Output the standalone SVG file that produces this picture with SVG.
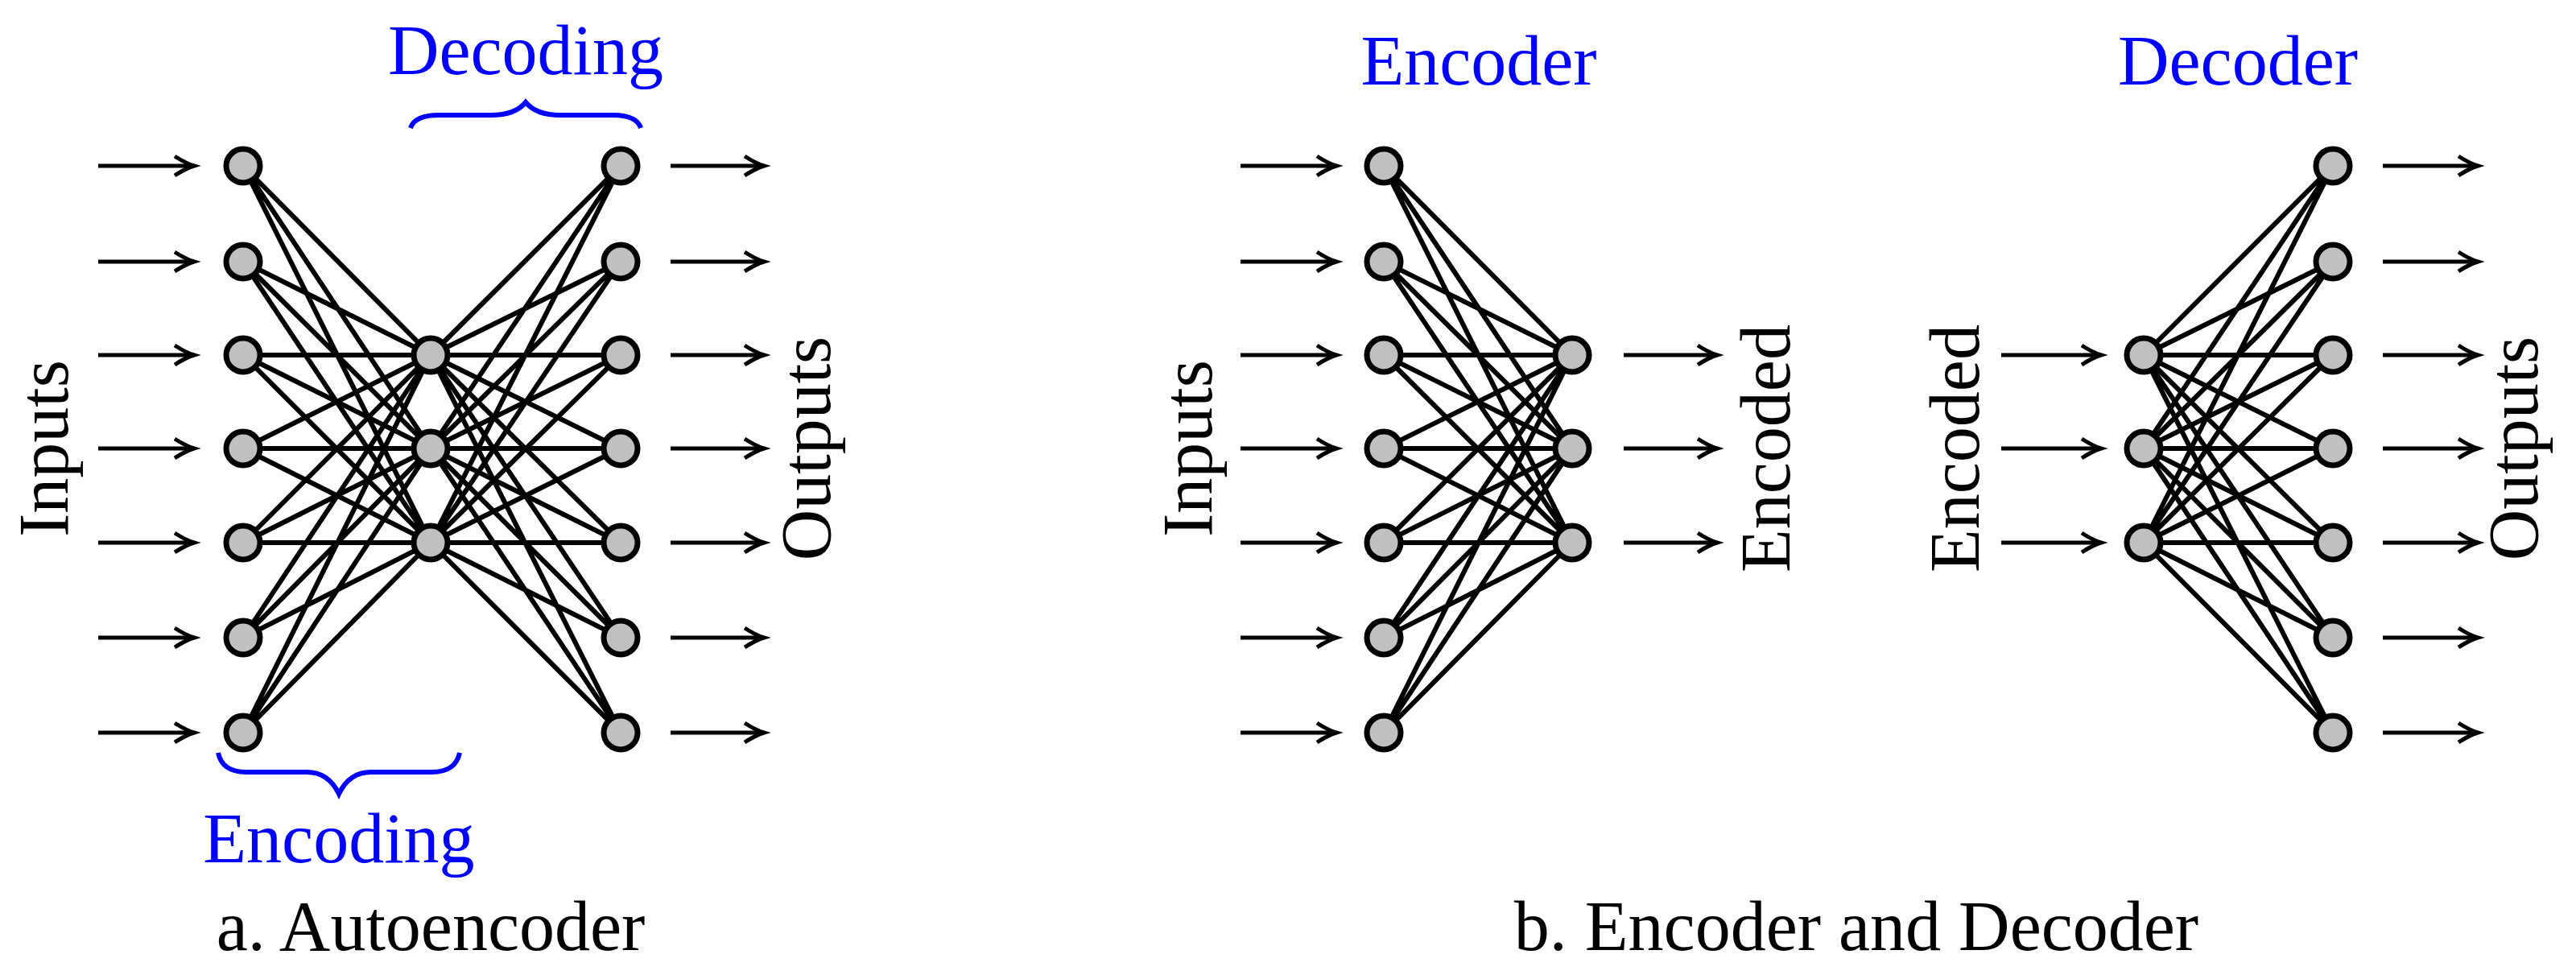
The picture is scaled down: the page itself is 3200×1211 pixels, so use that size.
<svg xmlns="http://www.w3.org/2000/svg" width="3200" height="1211" viewBox="0 0 3200 1211">
<defs>
<style>
.n{fill:#c0c0c0;stroke:#000;stroke-width:7}
.e{fill:none;stroke:#000;stroke-width:6}
.a{fill:none;stroke:#000;stroke-width:5;marker-end:url(#ah)}
.t{font-family:"Liberation Serif",serif;font-size:88px;fill:#000}
.b{fill:#0000ff}
.br{fill:none;stroke:#0000ff;stroke-width:6}
</style>
<marker id="ah" markerUnits="userSpaceOnUse" markerWidth="40" markerHeight="30" refX="2" refY="0" viewBox="-24 -15 30 30" orient="auto" overflow="visible">
<path d="M-22,-12 Q-8,-3 2,0 Q-8,3 -22,12" fill="none" stroke="#000" stroke-width="5"/>
</marker>
</defs>
<rect width="3200" height="1211" fill="#fff"/>
<g id="connectors">
<path class="e" d="M302 206L535 441M302 206L535 557M302 206L535 674M302 325L535 441M302 325L535 557M302 325L535 674M302 441L535 441M302 441L535 557M302 441L535 674M302 557L535 441M302 557L535 557M302 557L535 674M302 674L535 441M302 674L535 557M302 674L535 674M302 792L535 441M302 792L535 557M302 792L535 674M302 910L535 441M302 910L535 557M302 910L535 674"/>
<path class="e" d="M771 206L535 441M771 206L535 557M771 206L535 674M771 325L535 441M771 325L535 557M771 325L535 674M771 441L535 441M771 441L535 557M771 441L535 674M771 557L535 441M771 557L535 557M771 557L535 674M771 674L535 441M771 674L535 557M771 674L535 674M771 792L535 441M771 792L535 557M771 792L535 674M771 910L535 441M771 910L535 557M771 910L535 674"/>
<path class="e" d="M1719 206L1953 441M1719 206L1953 557M1719 206L1953 674M1719 325L1953 441M1719 325L1953 557M1719 325L1953 674M1719 441L1953 441M1719 441L1953 557M1719 441L1953 674M1719 557L1953 441M1719 557L1953 557M1719 557L1953 674M1719 674L1953 441M1719 674L1953 557M1719 674L1953 674M1719 792L1953 441M1719 792L1953 557M1719 792L1953 674M1719 910L1953 441M1719 910L1953 557M1719 910L1953 674"/>
<path class="e" d="M2898 206L2663 441M2898 206L2663 557M2898 206L2663 674M2898 325L2663 441M2898 325L2663 557M2898 325L2663 674M2898 441L2663 441M2898 441L2663 557M2898 441L2663 674M2898 557L2663 441M2898 557L2663 557M2898 557L2663 674M2898 674L2663 441M2898 674L2663 557M2898 674L2663 674M2898 792L2663 441M2898 792L2663 557M2898 792L2663 674M2898 910L2663 441M2898 910L2663 557M2898 910L2663 674"/>
<path class="a" d="M122 206H241"/><path class="a" d="M122 325H241"/><path class="a" d="M122 441H241"/><path class="a" d="M122 557H241"/><path class="a" d="M122 674H241"/><path class="a" d="M122 792H241"/><path class="a" d="M122 910H241"/>
<path class="a" d="M833 206H949"/><path class="a" d="M833 325H949"/><path class="a" d="M833 441H949"/><path class="a" d="M833 557H949"/><path class="a" d="M833 674H949"/><path class="a" d="M833 792H949"/><path class="a" d="M833 910H949"/>
<path class="a" d="M1541 206H1660"/><path class="a" d="M1541 325H1660"/><path class="a" d="M1541 441H1660"/><path class="a" d="M1541 557H1660"/><path class="a" d="M1541 674H1660"/><path class="a" d="M1541 792H1660"/><path class="a" d="M1541 910H1660"/>
<path class="a" d="M2017 441H2133"/><path class="a" d="M2017 557H2133"/><path class="a" d="M2017 674H2133"/>
<path class="a" d="M2486 441H2610"/><path class="a" d="M2486 557H2610"/><path class="a" d="M2486 674H2610"/>
<path class="a" d="M2960 206H3078"/><path class="a" d="M2960 325H3078"/><path class="a" d="M2960 441H3078"/><path class="a" d="M2960 557H3078"/><path class="a" d="M2960 674H3078"/><path class="a" d="M2960 792H3078"/><path class="a" d="M2960 910H3078"/>
</g>
<g id="a-input-nodes"><circle class="n" cx="302" cy="206" r="21"/><circle class="n" cx="302" cy="325" r="21"/><circle class="n" cx="302" cy="441" r="21"/><circle class="n" cx="302" cy="557" r="21"/><circle class="n" cx="302" cy="674" r="21"/><circle class="n" cx="302" cy="792" r="21"/><circle class="n" cx="302" cy="910" r="21"/></g>
<g id="a-hidden-nodes"><circle class="n" cx="535" cy="441" r="21"/><circle class="n" cx="535" cy="557" r="21"/><circle class="n" cx="535" cy="674" r="21"/></g>
<g id="a-output-nodes"><circle class="n" cx="771" cy="206" r="21"/><circle class="n" cx="771" cy="325" r="21"/><circle class="n" cx="771" cy="441" r="21"/><circle class="n" cx="771" cy="557" r="21"/><circle class="n" cx="771" cy="674" r="21"/><circle class="n" cx="771" cy="792" r="21"/><circle class="n" cx="771" cy="910" r="21"/></g>
<g id="b-input-nodes"><circle class="n" cx="1719" cy="206" r="21"/><circle class="n" cx="1719" cy="325" r="21"/><circle class="n" cx="1719" cy="441" r="21"/><circle class="n" cx="1719" cy="557" r="21"/><circle class="n" cx="1719" cy="674" r="21"/><circle class="n" cx="1719" cy="792" r="21"/><circle class="n" cx="1719" cy="910" r="21"/></g>
<g id="b-encoded-nodes"><circle class="n" cx="1953" cy="441" r="21"/><circle class="n" cx="1953" cy="557" r="21"/><circle class="n" cx="1953" cy="674" r="21"/></g>
<g id="b-decoder-input-nodes"><circle class="n" cx="2663" cy="441" r="21"/><circle class="n" cx="2663" cy="557" r="21"/><circle class="n" cx="2663" cy="674" r="21"/></g>
<g id="b-output-nodes"><circle class="n" cx="2898" cy="206" r="21"/><circle class="n" cx="2898" cy="325" r="21"/><circle class="n" cx="2898" cy="441" r="21"/><circle class="n" cx="2898" cy="557" r="21"/><circle class="n" cx="2898" cy="674" r="21"/><circle class="n" cx="2898" cy="792" r="21"/><circle class="n" cx="2898" cy="910" r="21"/></g>
<g id="braces">
<path class="br" d="M510 159Q515 143 545 143H610Q640 143 653 127Q666 143 696 143H761Q791 143 796 159"/>
<path class="br" d="M271 935Q276 959 306 959H381Q408 959 421 986Q434 959 461 959H536Q566 959 571 935"/>
</g>
<g id="labels">
<text class="t b" x="653" y="92" text-anchor="middle">Decoding</text>
<text class="t b" x="421" y="1071" text-anchor="middle">Encoding</text>
<text class="t" x="535" y="1180" text-anchor="middle">a. Autoencoder</text>
<text class="t" transform="translate(84 557) rotate(-90)" text-anchor="middle">Inputs</text>
<text class="t" transform="translate(1031 557) rotate(-90)" text-anchor="middle">Outputs</text>
<text class="t b" x="1837" y="105" text-anchor="middle">Encoder</text>
<text class="t b" x="2780" y="105" text-anchor="middle">Decoder</text>
<text class="t" x="2306" y="1180" text-anchor="middle">b. Encoder and Decoder</text>
<text class="t" transform="translate(1505 557) rotate(-90)" text-anchor="middle">Inputs</text>
<text class="t" transform="translate(2223 557) rotate(-90)" text-anchor="middle">Encoded</text>
<text class="t" transform="translate(2458 557) rotate(-90)" text-anchor="middle">Encoded</text>
<text class="t" transform="translate(3152 557) rotate(-90)" text-anchor="middle">Outputs</text>
</g>
</svg>
